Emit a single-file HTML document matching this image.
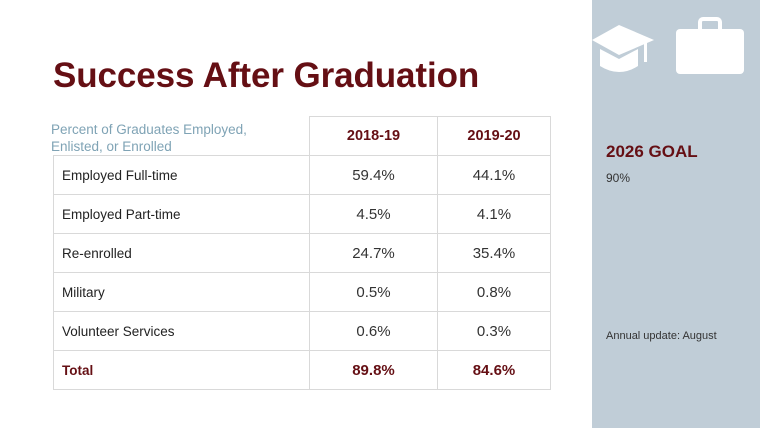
<!DOCTYPE html>
<html><head><style>
body{margin:0;width:760px;height:428px;background:#fff;position:relative;overflow:hidden;font-family:"Liberation Sans",Arial,sans-serif}
.panel{position:absolute;left:592px;top:0;width:168px;height:428px;background:#c0cdd7}
h1{position:absolute;left:53px;top:56px;margin:0;font-size:35px;font-weight:bold;color:#650f14;letter-spacing:-0.1px}
.sub{position:absolute;left:51px;top:121px;font-size:13.5px;color:#7fa3b5;line-height:17px}
.tb{position:absolute;left:53px;top:116px;border-collapse:collapse;table-layout:fixed;width:497px}
.tb td{border:1px solid #d9d9d9;height:39px;padding:0;font-size:14px;color:#222;box-sizing:border-box}
.tb td.l{padding-left:8px;font-size:13.5px}
.tb td.v{text-align:center;font-size:15px;color:#333}
.tb tr.h td{color:#650f14;font-weight:bold;font-size:14.5px}
.tb tr.h td.e{border:none;border-bottom:1px solid #d9d9d9}
.tb tr.t td{color:#650f14;font-weight:bold}
.goal{position:absolute;left:606px;top:142px;font-size:17px;font-weight:bold;color:#650f14}
.g2{position:absolute;left:606px;top:171px;font-size:12px;color:#333}
.g3{position:absolute;left:606px;top:330px;font-size:11px;color:#333}
</style></head><body>
<div class="panel"></div>
<svg style="position:absolute;left:592px;top:0" width="168" height="90">
<polygon points="0,40 27,25 62,40 27,55" fill="#fff"/>
<path d="M8,49 L8,66 Q27,78 46,66 L46,49 L27,59 Z" fill="#fff"/>
<rect x="52" y="42" width="3" height="20" fill="#fff"/>
<rect x="84" y="29" width="68" height="45" rx="4" fill="#fff"/>
<rect x="108" y="19" width="20" height="13" rx="3" fill="none" stroke="#fff" stroke-width="4"/>
</svg>
<h1>Success After Graduation</h1>
<div class="sub">Percent of Graduates Employed,<br>Enlisted, or Enrolled</div>
<table class="tb">
<colgroup><col style="width:256px"><col style="width:128px"><col style="width:113px"></colgroup>
<tr class="h"><td class="l e"></td><td class="v">2018-19</td><td class="v">2019-20</td></tr>
<tr><td class="l">Employed Full-time</td><td class="v">59.4%</td><td class="v">44.1%</td></tr>
<tr><td class="l">Employed Part-time</td><td class="v">4.5%</td><td class="v">4.1%</td></tr>
<tr><td class="l">Re-enrolled</td><td class="v">24.7%</td><td class="v">35.4%</td></tr>
<tr><td class="l">Military</td><td class="v">0.5%</td><td class="v">0.8%</td></tr>
<tr><td class="l">Volunteer Services</td><td class="v">0.6%</td><td class="v">0.3%</td></tr>
<tr class="t"><td class="l">Total</td><td class="v">89.8%</td><td class="v">84.6%</td></tr>
</table>
<div class="goal">2026 GOAL</div>
<div class="g2">90%</div>
<div class="g3">Annual update: August</div>
</body></html>
